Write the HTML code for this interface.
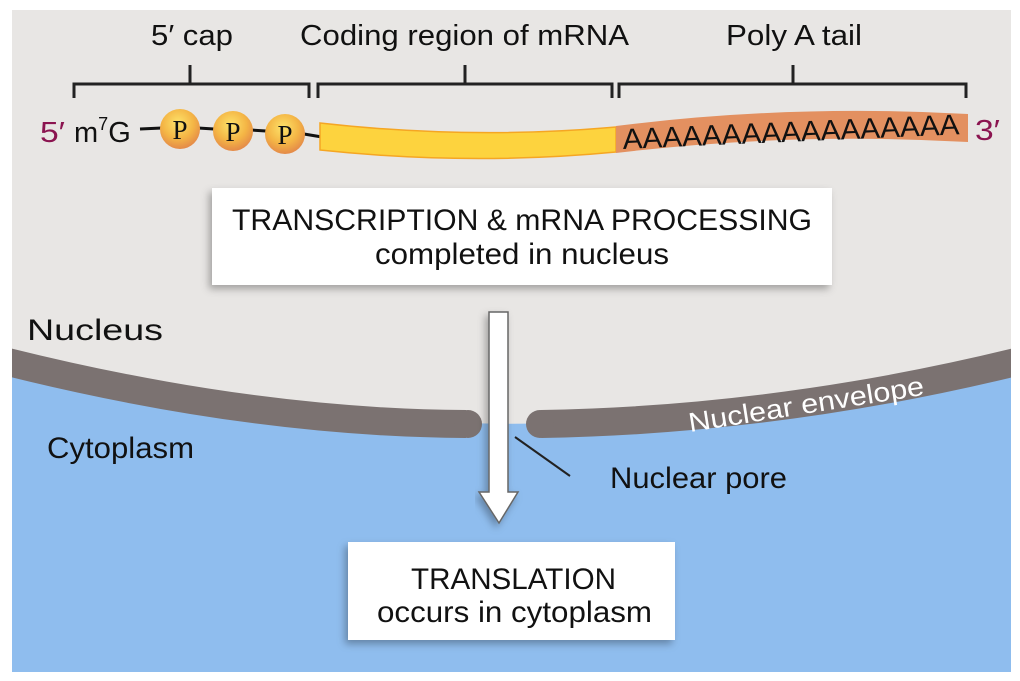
<!DOCTYPE html>
<html><head><meta charset="utf-8"><style>
html,body{margin:0;padding:0;background:#fff;}
svg{display:block;}
</style></head><body>
<svg width="1020" height="681" viewBox="0 0 1020 681" xmlns="http://www.w3.org/2000/svg" font-family="Liberation Sans, sans-serif">
<defs>
<radialGradient id="pg" cx="0.45" cy="0.35" r="0.65">
<stop offset="0" stop-color="#fde36a"/><stop offset="0.6" stop-color="#f4b545"/><stop offset="1" stop-color="#e48a48"/>
</radialGradient>
<filter id="sh" x="-10%" y="-10%" width="130%" height="140%"><feDropShadow dx="-3" dy="4" stdDeviation="4" flood-color="#000" flood-opacity="0.3"/></filter>
<clipPath id="cp"><rect x="12" y="10" width="999" height="662"/></clipPath>
</defs>
<rect x="12" y="10" width="999" height="662" fill="#e8e6e4"/>
<g clip-path="url(#cp)">
<path d="M12,363 Q511,484 1011,364 L1011,672 L12,672 Z" fill="#8fbdee"/>
<path d="M0,360 Q250,423 466,424" fill="none" stroke="#7b7271" stroke-width="28"/>
<circle cx="468" cy="424" r="14" fill="#7b7271"/>
<path d="M541,424 Q780,420 1020,361" fill="none" stroke="#7b7271" stroke-width="28"/>
<circle cx="540" cy="424" r="14" fill="#7b7271"/>
<rect x="482" y="410" width="44" height="13" fill="#e8e6e4"/>
</g>
<text x="0" y="0" font-size="27" fill="#fff" transform="translate(690,432) rotate(-9)" textLength="238" lengthAdjust="spacingAndGlyphs">Nuclear envelope</text>
<g fill="none" stroke="#222" stroke-width="3">
<path d="M74,98 V84 H309 V98 M190,84 V65"/>
<path d="M318,98 V84 H612 V98 M465,84 V65"/>
<path d="M619,98 V84 H966 V98 M793,84 V65"/>
</g>
<g font-size="29" fill="#111">
<text x="151" y="45" textLength="82" lengthAdjust="spacingAndGlyphs">5′ cap</text>
<text x="300" y="45" textLength="329" lengthAdjust="spacingAndGlyphs">Coding region of mRNA</text>
<text x="726" y="45" textLength="136" lengthAdjust="spacingAndGlyphs">Poly A tail</text>
</g>
<text x="40" y="142" font-size="29" fill="#8b1450" textLength="25" lengthAdjust="spacingAndGlyphs">5′</text>
<text x="74" y="142" font-size="29" fill="#111">m<tspan font-size="18" dy="-12">7</tspan><tspan dy="12">G</tspan></text>
<g stroke="#111" stroke-width="3">
<line x1="140" y1="129" x2="162" y2="128"/><line x1="198" y1="128" x2="214" y2="129"/><line x1="251" y1="130" x2="266" y2="131"/><line x1="304" y1="134" x2="322" y2="137"/>
</g>
<circle cx="180" cy="129" r="20" fill="url(#pg)"/>
<circle cx="233" cy="131" r="20" fill="url(#pg)"/>
<circle cx="285" cy="134" r="20" fill="url(#pg)"/>
<g font-family="Liberation Serif, serif" font-size="27" fill="#111" text-anchor="middle">
<text x="180" y="139">P</text><text x="233" y="141">P</text><text x="285" y="144">P</text>
</g>
<path d="M320,123 Q470,140 616,127 L616,152 Q470,166 320,150 Z" fill="#fdd33e" stroke="#f5a623" stroke-width="1.5"/>
<path d="M616,126 Q790,104 968,114 L968,142 Q790,132 616,153 Z" fill="#e39060"/>
<text x="0" y="0" font-size="29" fill="#111" transform="translate(623,149) rotate(-2.5)" textLength="337" lengthAdjust="spacingAndGlyphs">AAAAAAAAAAAAAAAAA</text>
<text x="975" y="140" font-size="29" fill="#8b1450" textLength="25" lengthAdjust="spacingAndGlyphs">3′</text>
<rect x="212" y="188" width="620" height="97" fill="#fff" filter="url(#sh)"/>
<g font-size="30" fill="#111">
<text x="232" y="230" textLength="580" lengthAdjust="spacingAndGlyphs">TRANSCRIPTION &amp; mRNA PROCESSING</text>
<text x="375" y="264" textLength="294" lengthAdjust="spacingAndGlyphs">completed in nucleus</text>
<text x="27" y="340" textLength="136" lengthAdjust="spacingAndGlyphs">Nucleus</text>
<text x="47" y="458" textLength="147" lengthAdjust="spacingAndGlyphs">Cytoplasm</text>
<text x="610" y="488" textLength="177" lengthAdjust="spacingAndGlyphs">Nuclear pore</text>
</g>
<path d="M489,312 H508 V492 H518 L499,523 L479,492 H489 Z" fill="#fff" stroke="#666" stroke-width="1.5" filter="url(#sh)"/>
<line x1="515" y1="437" x2="570" y2="476" stroke="#222" stroke-width="2"/>
<rect x="348" y="542" width="327" height="98" fill="#fff" filter="url(#sh)"/>
<g font-size="30" fill="#111">
<text x="411" y="589" textLength="205" lengthAdjust="spacingAndGlyphs">TRANSLATION</text>
<text x="377" y="622" textLength="275" lengthAdjust="spacingAndGlyphs">occurs in cytoplasm</text>
</g>
</svg>
</body></html>
